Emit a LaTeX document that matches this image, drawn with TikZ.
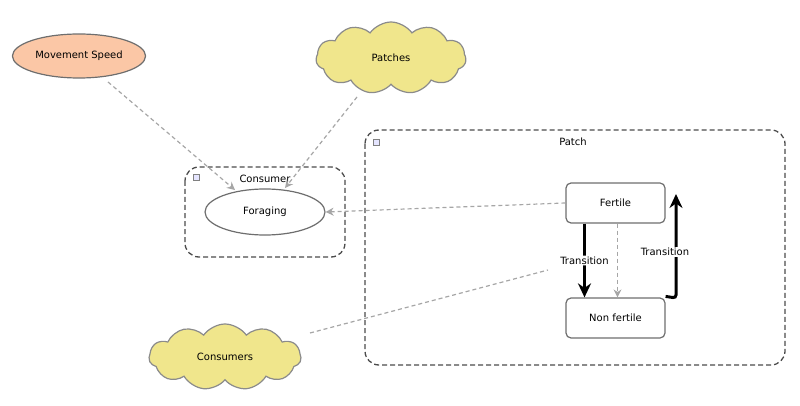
\documentclass[tikz,border=0pt]{standalone}
\usepackage{fontspec}
\setmainfont{DejaVu Sans}
\usetikzlibrary{shapes.geometric,shapes.symbols,arrows.meta}
\definecolor{cloudy}{HTML}{F0E68C}
\definecolor{salmon}{HTML}{FBC7A6}
\definecolor{edge}{HTML}{6E6E6E}
\begin{document}
\begin{tikzpicture}[x=1pt,y=-1pt,font=\fontsize{10}{12}\selectfont,
  cl/.style={cloud,cloud puffs=11,cloud puff arc=110,aspect=2.2,draw=edge!80,fill=cloudy,line width=1.2pt,inner sep=0pt},
  cont/.style={draw=black!70,line width=1.3pt,dash pattern=on 5pt off 3pt,rounded corners=14pt},
  st/.style={draw=edge,line width=1.2pt,rounded corners=5pt,fill=white,minimum width=99pt,minimum height=40pt,inner sep=0pt},
  dep/.style={draw=gray!70,line width=1.2pt,dash pattern=on 4pt off 3pt,-{Stealth[length=8pt,width=8pt]}},
  tr/.style={draw=black,line width=3pt,-{Stealth[length=14pt,width=13pt]},rounded corners=3pt},
  ico/.style={draw=gray,fill=blue!10,minimum size=6pt,inner sep=0pt}]
\useasboundingbox (0,0) rectangle (800,406);
\node[ellipse,draw=edge,line width=1.2pt,fill=salmon,minimum width=118pt,minimum height=44pt] (ms) at (79,56) {Movement Speed};
\node[cl,minimum width=150pt,minimum height=72pt] (pa) at (391,58) {Patches};
\node[cl,minimum width=152pt,minimum height=66pt] (cs) at (225,357) {Consumers};
\draw[cont] (185,167) rectangle (345,257);
\node (cl1) at (265,179) {Consumer};
\node[ico] (i1) at (196,177) {};
\draw[cont] (365,130) rectangle (785,365);
\node (pl) at (573,142) {Patch};
\node[ico] (i2) at (376,142) {};
\node[ellipse,draw=edge,line width=1.2pt,fill=white,minimum width=120pt,minimum height=46pt] (fo) at (265,212) {Foraging};
\node[st] (fe) at (615.5,203) {Fertile};
\node[st] (nf) at (615.5,318) {Non fertile};
\draw[dep] (108,82) -- (235,190);
\draw[dep] (357,97) -- (285,188);
\draw[dep] (fe.west) -- (fo.east);
\draw[dep] ([xshift=2pt]fe.south) -- ([xshift=2pt]nf.north);
\coordinate (c1) at (548,270);
\draw[draw=gray!70,line width=1.2pt,dash pattern=on 4pt off 3pt] (310,333) -- (c1);
\draw[tr] ([xshift=-31pt]fe.south) -- node[fill=white,inner sep=1pt] (t1) {Transition} ([xshift=-31pt]nf.north);
\draw[tr] ([yshift=1pt]nf.north east) -- (676,298) -- (676,194);
\node[fill=white,inner sep=1pt] (t2) at (665,252) {Transition};
\end{tikzpicture}
\end{document}
